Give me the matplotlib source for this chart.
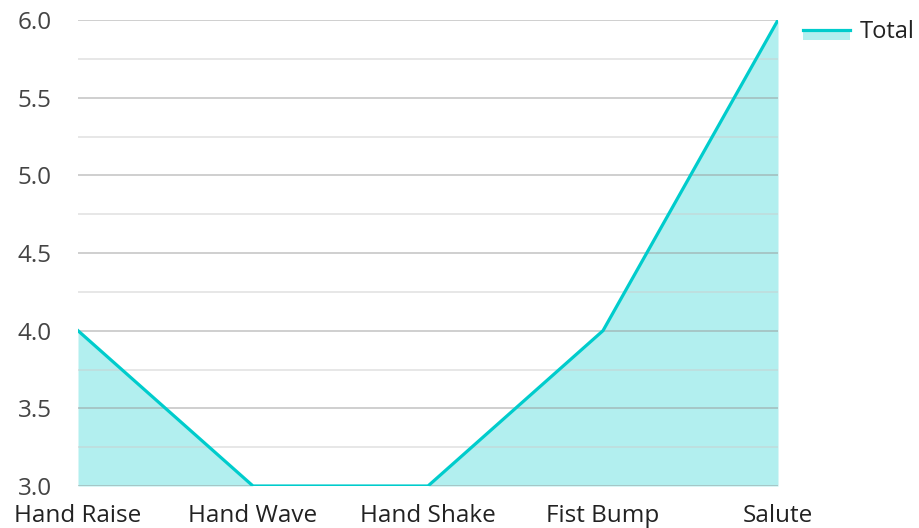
import numpy as np
import matplotlib.pyplot as plt
from matplotlib.lines import Line2D
from matplotlib.patches import Rectangle
from matplotlib.legend_handler import HandlerBase

plt.rcParams['font.family'] = ['Open Sans', 'DejaVu Sans']

gestures = ['Hand Raise', 'Hand Wave', 'Hand Shake', 'Fist Bump', 'Salute']
totals = [4, 3, 3, 4, 6]

LINE = '#00cccc'
FILL = '#b2efef'


class AreaHandler(HandlerBase):
    def create_artists(self, legend, orig, xd, yd, w, h, fontsize, trans):
        r = Rectangle((xd, yd - h * 0.15), w, h * 0.65, facecolor=FILL, edgecolor='none', transform=trans)
        l = Line2D([xd, xd + w], [yd + h * 0.5, yd + h * 0.5], color=LINE, lw=2.3, transform=trans)
        return [r, l]


fig = plt.figure(figsize=(9.2, 5.28), dpi=100)
ax = fig.add_axes([78 / 920, 42 / 528, 700 / 920, 466 / 528])

x = np.arange(len(gestures))
ax.fill_between(x, 3, totals, color=FILL, lw=0, zorder=1)
ax.plot(x, totals, color=LINE, lw=2.3, zorder=3)

ax.set_xlim(0, len(gestures) - 1)
ax.set_ylim(3, 6)
ax.set_yticks(np.arange(3, 6.01, 0.5))
ax.set_yticks(np.arange(3.25, 6, 0.5), minor=True)
ax.set_yticklabels([f'{v:.1f}' for v in np.arange(3, 6.01, 0.5)])
ax.set_xticks(x)
ax.set_xticklabels(gestures)

ax.grid(axis='y', which='major', color='#999999', alpha=0.5, lw=1.3, zorder=2)
ax.grid(axis='y', which='minor', color='#cccccc', alpha=0.5, lw=1.3, zorder=2)
ax.set_axisbelow(False)
for s in ax.spines.values():
    s.set_visible(False)
ax.tick_params(axis='both', which='both', length=0, labelsize=17.5, colors='#444444')
ax.tick_params(axis='y', pad=19)
ax.tick_params(axis='x', pad=13)
for lbl in ax.get_xticklabels():
    lbl.set_color('#222222')

fig.legend([object()], ['Total'], handler_map={object: AreaHandler()},
           loc='upper left', bbox_to_anchor=(803 / 920, 1 - 20 / 528),
           frameon=False, fontsize=17, handlelength=2.0, handletextpad=0.4,
           borderaxespad=0, borderpad=0, labelcolor='#222222')

fig.savefig('out.png', dpi=100)
